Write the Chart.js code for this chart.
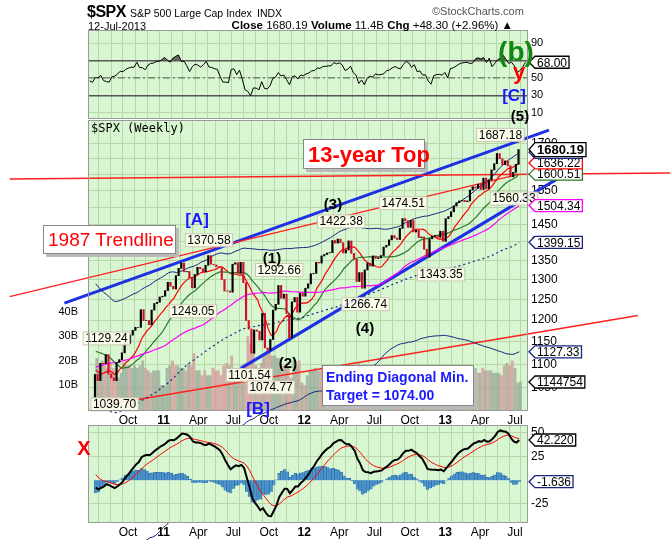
<!DOCTYPE html>
<html><head><meta charset="utf-8">
<script src="https://cdn.jsdelivr.net/npm/chart.js@4"></script>
<style>
body{margin:0;background:#fff;width:670px;height:540px;overflow:hidden;font-family:Arial,"Liberation Sans",sans-serif}
canvas{position:absolute;left:0;top:0}
.t{position:absolute;white-space:nowrap}
.box{position:absolute;background:#fff;border:1px solid #888;box-shadow:3px 3px 0 #bbb}
.w{position:absolute;transform:translate(-50%,-50%);font-weight:bold;white-space:nowrap}
</style></head><body>
<canvas id="rsi" width="670" height="540"></canvas>
<canvas id="main" width="670" height="540"></canvas>
<canvas id="macd" width="670" height="540"></canvas>

<div class="t" style="left:87px;top:3px;font-size:16px;font-weight:bold;letter-spacing:-0.5px">$SPX</div>
<div class="t" style="left:130px;top:7px;font-size:10.5px">S&amp;P 500 Large Cap Index</div>
<div class="t" style="left:257px;top:7px;font-size:10.5px">INDX</div>
<div class="t" style="left:432px;top:5px;font-size:11px;color:#555">©StockCharts.com</div>
<div class="t" style="left:88px;top:20px;font-size:11px">12-Jul-2013</div>
<div class="t" style="left:230px;top:19px;font-size:11.5px;width:283px;text-align:right"><b>Close</b> 1680.19 <b>Volume</b> 11.4B <b>Chg</b> +48.30 (+2.96%) ▲</div>

<div class="box" style="left:303px;top:139px;width:120px;height:28px;"><div class="t" style="left:4px;top:2px;font-size:22px;font-weight:bold;color:#f00">13-year Top</div></div>
<div class="box" style="left:43px;top:225px;width:131px;height:27px;"><div class="t" style="left:4px;top:3px;font-size:19px;color:#f00">1987 Trendline</div></div>
<div class="box" style="left:322px;top:365px;width:150px;height:39px;"><div class="t" style="left:3px;top:2px;font-size:14px;font-weight:bold;color:#1a1aff;line-height:18px">Ending Diagonal Min.<br>Target = 1074.00</div></div>

<div class="w" style="left:197px;top:220px;font-size:17px;color:#1a1aff">[A]</div>
<div class="w" style="left:272px;top:257px;font-size:15px">(1)</div>
<div class="w" style="left:288px;top:362px;font-size:15px">(2)</div>
<div class="w" style="left:333px;top:203px;font-size:15px">(3)</div>
<div class="w" style="left:365px;top:327px;font-size:15px">(4)</div>
<div class="w" style="left:520px;top:115px;font-size:15px">(5)</div>
<div class="w" style="left:258px;top:409px;font-size:17px;color:#1a1aff">[B]</div>
<div class="w" style="left:514px;top:96px;font-size:17px;color:#1a1aff">[C]</div>
<div class="w" style="left:519px;top:72px;font-size:22px;color:#f00">y</div>
<div class="w" style="left:516px;top:52px;font-size:28px;color:#118811">(b)</div>
<div class="w" style="left:84px;top:448px;font-size:20px;color:#f00">X</div>

<script>
// ---------------- DATA ----------------
const preCloses=[1239,1260,1257,1260,1296,1298,1292,1283,1242,1252,1255,1213,1099,899,940,877,968,930,873,800,896,876,879,887,872,
931,890,850,832,826,869,827,770,735,683,756,768,816,843,857,870,866,877,929,882,887,919,940,946,921,918,896,879,940,979,987,1010,1005,1026,1029,1016,1042,1068,1044,1025,1071,1087,1080,1036,1069,1093,1091,1091,1106,1106,1102,1126,1115,
1145,1136,1092,1074,1066,1075,1109,1104,1138,1150,1160,1167,1179,1194,1192,1217,1187,1111,1136,1088,1089,1065,1092,1117,1076,1023];
const closes=[1078,1065,1102,1101,1121,1079,1071,1065,1104,1110,1125,1149,1146,1165,1176,1183,1183,1225,1199,1199,1189,1224,1240,1243,1256,1258,
1272,1293,1283,1276,1310,1329,1343,1320,1321,1304,1279,1313,1332,1328,1320,1337,1363,1340,1338,1333,1331,1300,1271,1271,1268,1340,1344,1316,1345,1292,1199,1179,1124,1177,1174,1154,1216,1136,1131,1155,1224,1238,1285,1253,1263,1216,1159,1244,1255,1219,1265,1258,
1278,1289,1315,1316,1345,1343,1362,1366,1370,1371,1404,1397,1408,1398,1370,1378,1403,1369,1353,1295,1318,1278,1325,1343,1335,1362,1355,1357,1363,1386,1391,1406,1418,1411,1407,1438,1466,1460,1441,1461,1428,1433,1412,1414,1380,1359,1409,1416,1418,1413,1430,1402,
1466,1472,1486,1503,1513,1518,1520,1516,1518,1551,1561,1557,1569,1553,1588,1555,1582,1614,1634,1667,1650,1631,1643,1627,1592,1606,1632,1680.19];
const volumes=[21,19,20,18,17,19,17,16,13,15,19,18,18,17,18,17,18,20,17,16,15,16,16,16,10,9,
17,18,20,18,18,17,17,16,19,18,23,16,16,14,16,14,14,17,16,16,14,18,19,18,22,16,14,15,18,19,30,27,24,18,17,19,22,24,24,22,22,21,21,18,18,17,13,20,18,20,11,10,
14,16,16,17,16,16,15,15,17,15,16,14,15,13,16,14,16,15,16,19,17,18,16,16,18,17,15,14,14,15,14,13,12,13,12,14,16,17,15,16,14,15,14,12,15,16,11,16,15,17,14,12,
14,15,15,15,16,15,15,16,15,15,16,15,15,17,16,16,16,15,15,15,14,18,19,18,20,17,11,11.4];
const startDate=[2010,6,9];
const priceTicks=[1050,1100,1150,1200,1250,1300,1350,1400,1450,1500,1550,1600,1650,1700];
const volTicks=[10,20,30,40];
const rsiTicks=[10,30,50,70,90];
const macdTicks=[-25,25,50];
// trendlines: [week index, price]
const upperChannel=[[-11.6,1241],[168,1746]];
const lowerChannel=[[53.8,1091],[174.5,1603]];
const redRising=[[-31.9,1257],[156.3,1599]];
const redFlat=[[-31.9,1585],[215,1604]];
const red1987=[[-0.9,1011],[201,1211]];
// price labels: [week index, price, text, above?]
const priceLabels=[[150,1687.18,'1687.18',1],[155,1560.33,'1560.33',0],[114,1474.51,'1474.51',1],[91,1422.38,'1422.38',1],
[42,1370.58,'1370.58',1],[68,1292.66,'1292.66',1],[36,1249.05,'1249.05',0],[4,1129.24,'1129.24',1],[7,1039.70,'1039.70',0],
[57,1101.54,'1101.54',0],[65,1074.77,'1074.77',0],[100,1266.74,'1266.74',0],[128,1343.35,'1343.35',0]];

// ---------------- CALC ----------------
const all=preCloses.concat(closes), off=preCloses.length, N=closes.length;
const sma=(n)=>closes.map((_,i)=>{let j=i+off,s=0;for(let k=j-n+1;k<=j;k++)s+=all[k];return s/n;});
const sd=(n)=>closes.map((_,i)=>{let j=i+off,m=0;for(let k=j-n+1;k<=j;k++)m+=all[k];m/=n;let v=0;for(let k=j-n+1;k<=j;k++)v+=(all[k]-m)**2;return Math.sqrt(v/n);});
const ma10=sma(10),ma20=sma(20),ma50=sma(50),ma100=sma(100),sd100=sd(100);
const bbU=ma100.map((m,i)=>m+2*sd100[i]),bbL=ma100.map((m,i)=>m-2*sd100[i]);
function emaArr(a,n){const k=2/(n+1);let e=a[0];return a.map(v=>e=v*k+e*(1-k));}
const e12=emaArr(all,12),e26=emaArr(all,26);
const macdAll=e12.map((v,i)=>v-e26[i]);const sigAll=emaArr(macdAll,9);
const macd=macdAll.slice(off),sig=sigAll.slice(off),hist=macd.map((v,i)=>v-sig[i]);
let ag=0,al=0;const rsiAll=[];
for(let i=1;i<all.length;i++){const d=all[i]-all[i-1];if(i<=14){ag+=Math.max(d,0)/14;al+=Math.max(-d,0)/14;}else{ag=(ag*13+Math.max(d,0))/14;al=(al*13+Math.max(-d,0))/14;}rsiAll[i]=100-100/(1+ag/al);}
const rsi=rsiAll.slice(off);
const pts=a=>a.map((v,i)=>({x:i,y:v}));
const seg=a=>a.map(p=>({x:p[0],y:p[1]}));

// month ticks
const sd0=new Date(startDate[0],startDate[1],startDate[2]);
const mTicks=[];const mLab={};
for(let y=2010;y<=2013;y++)for(let m=0;m<12;m++){const d=new Date(y,m,1);const v=(d-sd0)/(7*864e5);if(v>-0.5&&v<157.6){mTicks.push(v);
 mLab[v.toFixed(3)]=m===0?String(y%100):(m===3?'Apr':m===6?'Jul':m===9?'Oct':'');}}
const xScale=(disp)=>({type:'linear',min:-0.6,max:157.6,display:disp!==false,
 afterBuildTicks:s=>{s.ticks=mTicks.map(v=>({value:v}));},afterFit:s=>{s.height=disp==='none'?0:18;},
 grid:{color:'#b9d6a6',drawTicks:false},border:{display:false},
 ticks:{autoSkip:false,maxRotation:0,padding:3,color:'#000',callback:v=>mLab[v.toFixed(3)]||'',
  font:c=>({size:12,family:'Arial',weight:/^\d\d$/.test(c.tick&&c.tick.label)?'bold':'normal'})}});
const yRight=(o)=>Object.assign({position:'right',afterFit:s=>{s.width=45;},grid:{color:'#b9d6a6',drawTicks:false},border:{display:false},
 ticks:{color:'#000',font:{size:12,family:'Arial'},padding:4}},o);

const bg={id:'bg',beforeDraw(c){const a=c.chartArea,x=c.ctx;x.save();x.fillStyle='#d8f6d2';x.fillRect(a.left,a.top,a.width,a.height);x.restore();},
 afterDraw(c){const a=c.chartArea,x=c.ctx;x.save();x.strokeStyle='#9a9a9a';x.lineWidth=1;x.strokeRect(a.left+.5,a.top+.5,a.width,a.height);x.restore();}};
function tag(x,px,y,text,col,bold){x.save();x.font=(bold?'bold 13px':'12px')+' Arial';const w=x.measureText(text).width+4,h=bold?14:12;
 x.beginPath();x.moveTo(px,y);x.lineTo(px+6,y-h/2);x.lineTo(px+6+w,y-h/2);x.lineTo(px+6+w,y+h/2);x.lineTo(px+6,y+h/2);x.closePath();
 x.fillStyle='#fff';x.fill();x.strokeStyle=col;x.lineWidth=1.3;x.stroke();x.fillStyle='#000';x.textBaseline='middle';x.fillText(text,px+8,y+1);x.restore();}
const base={responsive:false,animation:false,devicePixelRatio:1,plugins:{legend:{display:false},tooltip:{enabled:false}}};

// ---------------- RSI ----------------
new Chart(document.getElementById('rsi'),{type:'line',plugins:[bg,{id:'rt',afterDraw(c){const s=c.scales.y,x=c.ctx,v=rsi[N-1];tag(x,c.chartArea.right+2,s.getPixelForValue(v),v.toFixed(2),'#000');}}],
 data:{datasets:[
  {data:pts(rsi),borderColor:'#000',borderWidth:1,pointRadius:0,fill:{target:{value:70},above:'#666',below:'rgba(0,0,0,0)'}},
  {data:[{x:-0.6,y:50},{x:157.6,y:50}],borderColor:'#555',borderWidth:1,borderDash:[7,3,2,3],pointRadius:0}]},
 options:Object.assign({},base,{layout:{padding:{left:88,right:98,top:30,bottom:422}},
  scales:{x:Object.assign(xScale('none'),{ticks:{display:false}}),
   y:yRight({min:4,max:105,afterBuildTicks:s=>{s.ticks=rsiTicks.map(v=>({value:v}));},
    grid:{color:c=>(c.tick&&(c.tick.value===70||c.tick.value===30))?'#555':'#b9d6a6',lineWidth:c=>(c.tick&&(c.tick.value===70||c.tick.value===30))?1.5:1,drawTicks:false},
    ticks:{color:'#000',font:{size:11,family:'Arial'},padding:4,callback:v=>v===70?'':v}})}})});

// ---------------- MAIN ----------------
const ln=(d,col,w,dash)=>({type:'line',data:d,borderColor:col,borderWidth:w,borderDash:dash||[],pointRadius:0,clip:false,order:1});
new Chart(document.getElementById('main'),{type:'bar',plugins:[bg,{id:'mt',afterDatasetsDraw(c){const s=c.scales.y,xs=c.scales.x,x=c.ctx;
  x.save();x.font='12px "DejaVu Sans Mono",monospace';x.fillStyle='#000';x.fillText('$SPX (Weekly)',91,132);
  x.font='12px Arial';x.textAlign='center';x.textBaseline='middle';
  priceLabels.forEach(p=>{const px=xs.getPixelForValue(p[0]),py=s.getPixelForValue(p[1])+(p[3]?-12:12);const w=x.measureText(p[2]).width+4;
   x.fillStyle='rgba(255,255,240,0.9)';x.fillRect(px-w/2,py-7,w,13);x.strokeStyle='#c8c8b0';x.strokeRect(px-w/2,py-7,w,13);x.fillStyle='#000';x.fillText(p[2],px,py);});
  x.restore();},
 afterDraw(c){const s=c.scales.y,v=c.scales.v,x=c.ctx,r=c.chartArea.right+2;
  tag(x,r,v.getPixelForValue(volumes[N-1]),'1144754','#000');
  tag(x,r,s.getPixelForValue(bbL[N-1]),bbL[N-1].toFixed(2),'#1a237e');
  tag(x,r,s.getPixelForValue(ma100[N-1]),ma100[N-1].toFixed(2),'#1a237e');
  tag(x,r,s.getPixelForValue(ma50[N-1]),ma50[N-1].toFixed(2),'#ff00ff');
  tag(x,r,s.getPixelForValue(ma20[N-1]),ma20[N-1].toFixed(2),'#2a7a2a');
  tag(x,r,s.getPixelForValue(ma10[N-1]),ma10[N-1].toFixed(2),'#ff0000');
  tag(x,r,s.getPixelForValue(bbU[N-1]),bbU[N-1].toFixed(2),'#1a237e');
  tag(x,r,s.getPixelForValue(closes[N-1]),closes[N-1].toFixed(2),'#000',1);}}],
 data:{datasets:[
  {type:'bar',yAxisID:'v',data:volumes.map((v,i)=>({x:i,y:v})),backgroundColor:volumes.map((v,i)=>closes[i]<(i?closes[i-1]:preCloses[off-1])?'rgba(214,150,150,0.75)':'rgba(150,165,150,0.75)'),barThickness:2.2,order:9},
  {type:'bar',yAxisID:'y',data:closes.map((v,i)=>{const p=i?closes[i-1]:preCloses[off-1];return {x:i,y:[Math.min(p,v),Math.max(p,v)]};}),
   backgroundColor:closes.map((v,i)=>v<(i?closes[i-1]:preCloses[off-1])?'#d0102a':'#000'),barThickness:1.5,order:0},
  ln(pts(bbU),'#1a237e',1),ln(pts(bbL),'#1a237e',1),ln(pts(ma100),'#1a237e',1.2,[2,3]),
  ln(pts(ma50),'#ff00ff',1.2),ln(pts(ma20),'#2a7a2a',1.2),ln(pts(ma10),'#ff0000',1.2),
  ln(seg(redRising),'#ff2020',1.3),ln(seg(redFlat),'#ff2020',1.5),ln(seg(red1987),'#ff2020',1.5),
  ln(seg(upperChannel),'#1f2fe6',3),ln(seg(lowerChannel),'#1f2fe6',3)]},
 options:Object.assign({},base,{layout:{padding:{left:58,right:98,top:120,bottom:112}},
  scales:{x:xScale(),
   y:yRight({type:'logarithmic',min:1005,max:1781,afterBuildTicks:s=>{s.ticks=priceTicks.map(v=>({value:v}));},ticks:{color:'#000',font:{size:12,family:'Arial'},padding:4,callback:v=>v}}),
   v:{position:'left',min:0,max:118,afterFit:s=>{s.width=30;},grid:{display:false},border:{display:false},
    afterBuildTicks:s=>{s.ticks=volTicks.map(v=>({value:v}));},ticks:{color:'#000',font:{size:11,family:'Arial'},padding:2,callback:v=>v+'B'}}}})});

// ---------------- MACD ----------------
new Chart(document.getElementById('macd'),{type:'bar',plugins:[bg,{id:'mc',afterDraw(c){const s=c.scales.y,x=c.ctx,r=c.chartArea.right+2;
  tag(x,r,s.getPixelForValue(hist[N-1]),hist[N-1].toFixed(3),'#1a237e');tag(x,r,s.getPixelForValue(macd[N-1]),macd[N-1].toFixed(3),'#000');}}],
 data:{datasets:[
  {type:'bar',data:pts(hist),backgroundColor:'#4d94cc',borderColor:'#1f5f99',borderWidth:{left:0.5,right:0.5,top:0.5,bottom:0},barThickness:2.8,order:5},
  {type:'line',data:pts(sig),borderColor:'#f00',borderWidth:1,pointRadius:0,order:1},
  {type:'line',data:pts(macd),borderColor:'#000',borderWidth:2,pointRadius:0,order:0}]},
 options:Object.assign({},base,{layout:{padding:{left:88,right:98,top:425,bottom:0}},
  scales:{x:xScale(),y:yRight({min:-44,max:58,afterBuildTicks:s=>{s.ticks=macdTicks.map(v=>({value:v}));}})}})});
</script>
</body></html>
